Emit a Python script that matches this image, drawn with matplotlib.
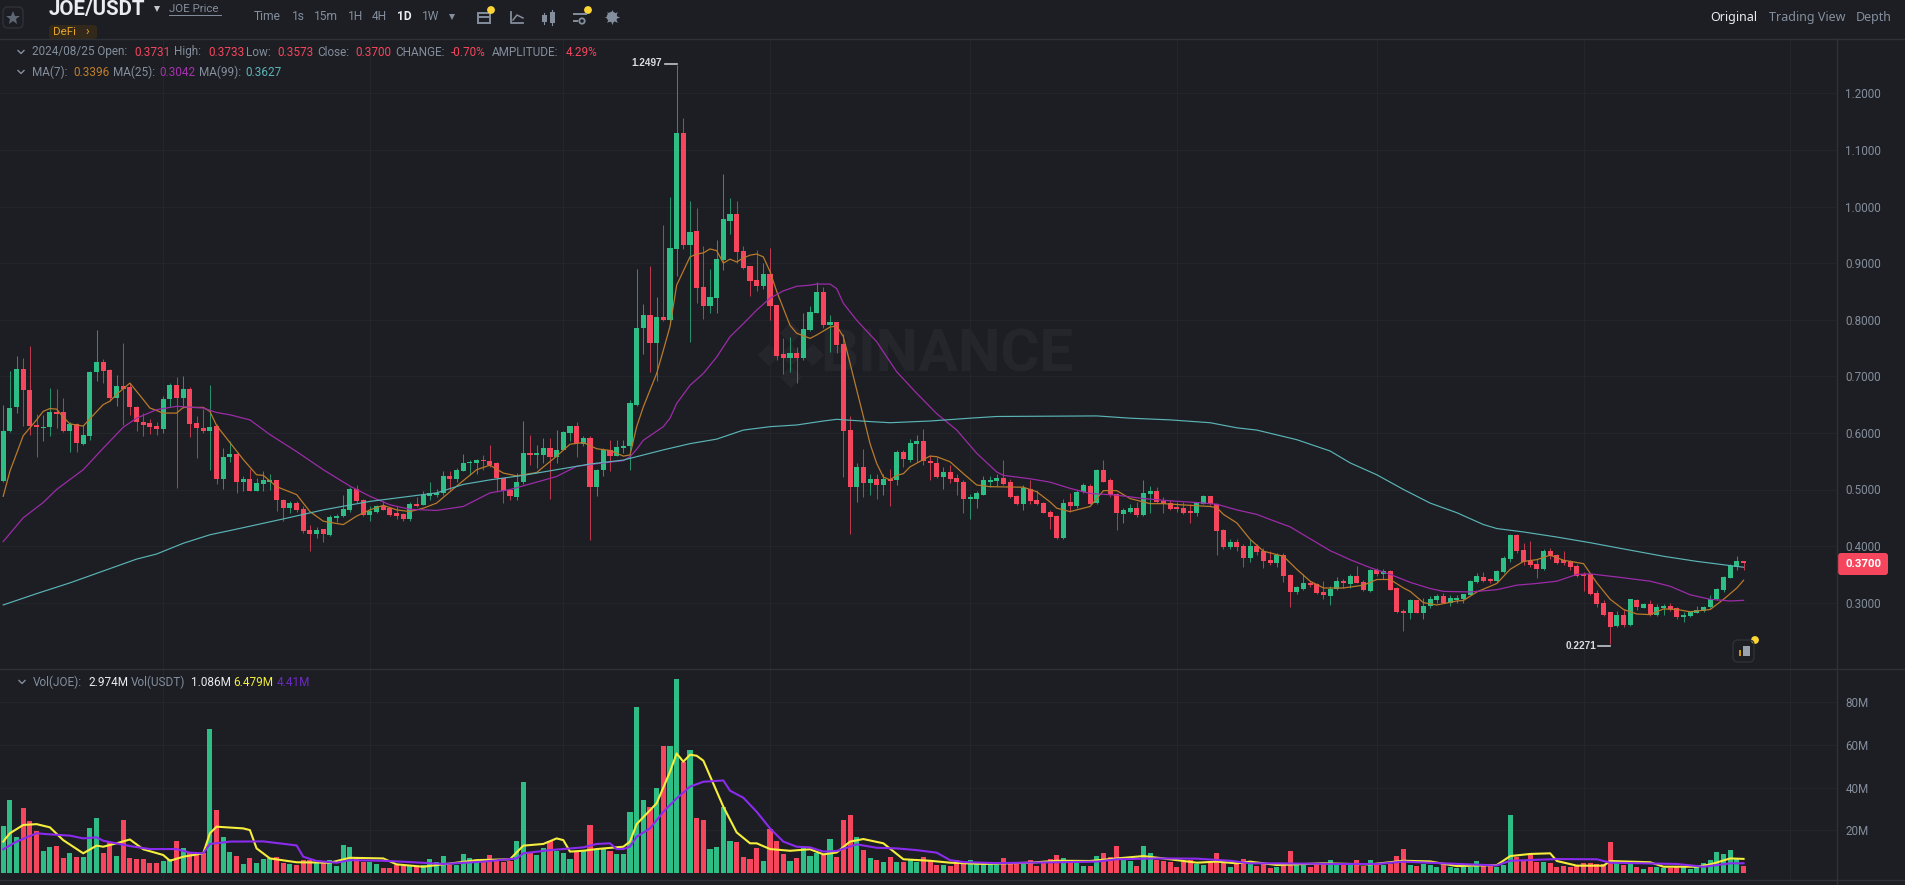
import matplotlib
matplotlib.use("Agg")
import matplotlib.pyplot as plt
from matplotlib.patches import FancyBboxPatch, Rectangle, Circle, RegularPolygon

# ---------- data ----------
direction = ("GGGRRRGGRR" "GRGGGRRGRR" "RRRRGGRGRR" "RGRGGRGRGG" "GRRGRRRGRG" "GGGRRGGRRR"
             "RGRGGGGRGG" "GGRRRRRGGR" "GGRGGGRGRG" "GRGGGGGRGR" "GGRGRRGGGG" "RRRRGRRRGR"
             "GGGRGRRRGR" "GRGRGRGGRR" "RGRRRGGGGG" "RRRGRRRRRG" "RGGRGRRRGG" "RGGRRRRRRG"
             "GRRRGRRGRR" "RGRRGGRRRG" "GRGRRGRGRR" "RGRGGGRGGG" "GGRRGGGRRR" "RGRRRRRRRR"
             "RRGRGRGRGG" "RRGGGGGGGGGR")
body_top = [.604,.644,.713,.713,.676,.614,.611,.637,.637,.637,
 .616,.616,.596,.707,.726,.726,.712,.683,.683,.681,
 .646,.620,.617,.612,.660,.685,.685,.678,.678,.617,
 .609,.611,.613,.557,.563,.563,.518,.519,.512,.517,
 .517,.517,.482,.476,.477,.465,.429,.429,.430,.451,
 .454,.466,.500,.500,.482,.462,.470,.471,.467,.458,
 .457,.474,.475,.490,.494,.494,.524,.524,.535,.547,
 .548,.552,.552,.551,.546,.520,.499,.514,.564,.564,
 .564,.574,.574,.570,.601,.613,.613,.591,.591,.535,
 .569,.570,.575,.577,.652,.786,.809,.808,.805,.805,
 .927,1.130,1.130,.955,.956,.857,.84,.907,.978,.987,
 .987,.921,.894,.870,.881,.881,.826,.739,.742,.742,
 .783,.813,.849,.849,.796,.796,.757,.606,.539,.539,
 .518,.518,.519,.519,.566,.566,.583,.586,.586,.551,
 .547,.531,.531,.521,.514,.487,.493,.517,.517,.521,
 .521,.513,.488,.502,.501,.482,.477,.461,.454,.477,
 .478,.496,.508,.507,.535,.535,.517,.492,.464,.467,
 .467,.494,.498,.497,.48,.477,.469,.467,.462,.477,
 .488,.488,.475,.429,.408,.408,.401,.4,.4,.392,
 .375,.384,.384,.349,.327,.335,.335,.333,.319,.325,
 .339,.339,.347,.347,.336,.357,.357,.356,.356,.326,
 .285,.304,.304,.295,.307,.312,.312,.309,.309,.315,
 .339,.347,.346,.342,.356,.379,.419,.419,.393,.373,
 .368,.392,.392,.385,.375,.373,.365,.35,.351,.317,
 .3,.283,.279,.279,.306,.305,.297,.297,.293,.295,
 .295,.29,.278,.284,.287,.293,.307,.325,.346,.365,.373,.3731]
body_bot = [.515,.603,.645,.675,.613,.610,.609,.610,.634,.604,
 .604,.583,.581,.595,.707,.710,.661,.662,.677,.645,
 .619,.614,.610,.607,.607,.660,.661,.661,.616,.608,
 .604,.604,.519,.519,.557,.513,.513,.498,.498,.510,
 .514,.481,.468,.468,.464,.426,.422,.422,.421,.420,
 .450,.453,.464,.480,.455,.455,.461,.464,.455,.454,
 .448,.448,.471,.473,.489,.491,.493,.519,.519,.533,
 .546,.547,.550,.543,.520,.497,.488,.487,.513,.561,
 .561,.561,.558,.558,.570,.600,.582,.581,.504,.504,
 .534,.560,.560,.574,.576,.649,.786,.758,.758,.799,
 .800,.925,.932,.932,.856,.825,.824,.838,.906,.975,
 .919,.891,.869,.859,.859,.825,.736,.732,.732,.733,
 .733,.782,.811,.79,.79,.755,.604,.504,.504,.512,
 .512,.508,.508,.515,.517,.554,.553,.581,.55,.546,
 .522,.522,.519,.513,.484,.484,.484,.491,.514,.515,
 .51,.486,.474,.474,.48,.474,.458,.452,.414,.414,
 .47,.47,.495,.475,.477,.514,.49,.458,.457,.461,
 .455,.455,.492,.478,.474,.465,.465,.458,.458,.458,
 .475,.474,.427,.399,.399,.398,.379,.379,.39,.373,
 .37,.37,.347,.319,.319,.325,.331,.317,.313,.312,
 .324,.334,.333,.335,.322,.321,.35,.35,.323,.283,
 .281,.281,.282,.282,.295,.305,.3,.3,.305,.306,
 .314,.336,.339,.338,.339,.355,.378,.391,.372,.366,
 .359,.359,.382,.37,.37,.363,.348,.348,.316,.297,
 .279,.257,.258,.26,.26,.292,.291,.278,.278,.29,
 .288,.275,.274,.276,.282,.285,.292,.306,.323,.344,.363,.37]
highs = [.649,.710,.736,.732,.754,.634,.632,.679,.677,.662,
 .619,.617,.614,.709,.782,.730,.713,.703,.758,.688,
 .648,.636,.624,.620,.665,.689,.699,.701,.681,.630,
 .642,.685,.616,.573,.586,.564,.523,.536,.521,.533,
 .527,.517,.483,.479,.479,.471,.438,.434,.430,.455,
 .457,.491,.505,.508,.483,.470,.473,.479,.469,.471,
 .458,.478,.487,.497,.513,.501,.532,.533,.538,.563,
 .553,.554,.561,.579,.548,.521,.501,.529,.621,.597,
 .579,.591,.591,.606,.603,.613,.619,.594,.594,.536,
 .573,.587,.588,.588,.659,.889,.827,.895,.84,.967,
 1.017,1.2497,1.156,1.01,.997,.930,.889,.94,1.057,1.015,
 1.01,.93,.895,.923,.9,.927,.826,.767,.77,.752,
 .811,.824,.866,.857,.808,.796,.775,.63,.546,.571,
 .527,.528,.528,.537,.57,.57,.59,.596,.607,.561,
 .558,.539,.543,.528,.517,.492,.498,.524,.524,.527,
 .553,.518,.49,.508,.517,.499,.478,.464,.455,.484,
 .494,.5,.512,.509,.537,.553,.521,.493,.468,.474,
 .478,.517,.506,.505,.487,.481,.478,.478,.475,.478,
 .49,.489,.477,.43,.412,.413,.403,.413,.403,.397,
 .391,.388,.387,.35,.33,.35,.338,.335,.338,.329,
 .346,.341,.35,.365,.34,.36,.362,.36,.358,.327,
 .288,.306,.305,.309,.312,.316,.317,.314,.314,.316,
 .34,.353,.354,.344,.357,.382,.422,.422,.405,.409,
 .378,.394,.396,.386,.392,.376,.368,.354,.353,.323,
 .304,.284,.285,.288,.307,.306,.3,.304,.297,.298,
 .3,.292,.283,.286,.294,.295,.314,.326,.348,.369,.383,.3733]
lows = [.514,.602,.636,.612,.597,.557,.585,.594,.609,.601,
 .567,.566,.579,.587,.691,.689,.657,.648,.614,.632,
 .603,.595,.598,.597,.599,.646,.502,.644,.592,.555,
 .600,.534,.510,.501,.548,.494,.497,.497,.498,.498,
 .500,.462,.445,.458,.461,.424,.392,.414,.408,.418,
 .442,.451,.461,.477,.454,.445,.458,.463,.454,.447,
 .444,.444,.469,.472,.482,.487,.491,.500,.514,.532,
 .525,.527,.535,.540,.498,.476,.481,.482,.510,.544,
 .538,.547,.483,.547,.569,.585,.557,.576,.411,.488,
 .523,.532,.559,.564,.534,.648,.740,.708,.692,.798,
 .79,.877,.925,.76,.83,.801,.811,.812,.888,.951,
 .9,.889,.842,.851,.854,.799,.729,.704,.708,.689,
 .729,.78,.811,.785,.743,.742,.522,.421,.478,.486,
 .49,.484,.49,.471,.508,.539,.549,.549,.543,.517,
 .521,.501,.511,.49,.459,.447,.467,.49,.504,.507,
 .508,.485,.472,.464,.475,.472,.458,.431,.413,.413,
 .461,.467,.493,.474,.474,.513,.486,.429,.441,.458,
 .452,.454,.458,.477,.458,.464,.461,.457,.441,.454,
 .474,.472,.385,.395,.394,.392,.363,.372,.385,.362,
 .367,.363,.336,.293,.316,.323,.328,.316,.307,.296,
 .323,.326,.326,.334,.32,.319,.347,.342,.322,.282,
 .25,.272,.281,.272,.291,.3,.299,.295,.3,.299,
 .313,.334,.336,.334,.336,.353,.372,.388,.366,.363,
 .344,.357,.378,.369,.367,.357,.346,.32,.314,.292,
 .277,.2271,.257,.257,.258,.287,.29,.276,.276,.279,
 .286,.272,.266,.275,.281,.284,.29,.304,.319,.343,.358,.3573]
volumes = [21.9,34.1,16.9,30.2,24.4,19.6,10,12,12.5,6.9,
 9.1,7.4,7.4,21,25.7,9.2,14.2,7.8,24.7,6.9,
 6.3,6.4,4.4,4.4,5.5,6.4,14.9,11.6,9.1,8.6,
 9.4,67.4,29.4,16.7,9.9,8,4.2,6.9,4.4,6.3,
 6.7,7.2,4.4,4.1,3.6,5.8,5.9,4.7,4.4,5.9,
 3.3,13.1,12,6.7,5.2,5.2,3.9,2.3,2.2,3.8,
 3.1,3.8,3.3,3.6,6.3,4.9,7.8,3.6,3.6,8.8,
 6.7,5.6,5,8.5,6.4,5,5.6,14.7,42.7,9.1,
 8.3,11.7,15,10.2,9.4,6.6,9.9,10.6,22.4,11,
 11,10,8.8,8.8,28.3,77.9,34.1,30.7,39.6,59.5,
 59.5,90.8,52.1,57.4,25.5,24.7,11,12,31,14.9,
 14.4,7.5,6.4,11.4,5.5,20.5,14.9,8.9,5.6,7,
 11.4,7.8,9.4,8.3,15.6,7.2,24.6,27.1,16.6,10.6,
 6.9,5.9,5.2,7.4,5,5,5.9,5.2,7.2,5.6,
 3.6,3.4,3.3,6.1,4.7,5.8,3.9,4.4,4.4,4.4,
 6.7,4.1,4.7,4.1,5.9,3,4.4,6.4,8.3,7,
 4.9,4.4,3.3,3.1,7.8,9.2,7.4,12.5,6.3,5.6,
 3.3,12.5,9.4,5.9,5.5,4.9,2.8,5.2,5.9,4.1,
 3.4,4.4,9.1,5.2,2.5,4.1,6.3,4.4,3.3,4.1,
 2.2,2.5,3.6,10,4.1,4.1,2.8,4.4,3.9,5.9,
 3.6,3.6,3.6,5.9,3.1,5.9,4.4,3.6,3.9,7.8,
 11,3.6,3.3,4.1,3.6,2.8,3.9,2.8,2.3,2.5,
 2.8,5.5,3.6,3.3,2.8,3.6,27.1,7.5,5.6,8.3,
 5.2,5.2,4.4,2.8,3.3,2.8,3.1,4.4,4.4,3.9,
 3.9,14.4,4.4,3.6,4.4,2.8,1.9,2.8,2.8,2.2,
 2.2,2.5,3.3,1.6,2.5,4.7,5.9,9.7,8.8,10.5,6.3,2.974]

ma7_idx = [0,1,3,5,6,7,8,9,10,12,13,15,16,17,19,21,22,24,26,27,30,31,32,34,36,38,39,41,44,46,48,51,53,55,57,59,61,63,65,68,71,73,75,77,80,83,85,87,89,91,93,94,95,96,98,99,100,101,103,104,105,106,107,108,109,110,111,112,113,114,115,116,117,118,119,121,122,124,125,126,127,128,129,130,131,132,133,134,135,136,138,139,140,142,144,146,148,153,155,157,158,160,163,164,165,167,169,172,174,178,181,182,183,185,187,189,192,194,196,198,201,204,206,208,210,211,213,215,218,219,221,224,226,228,230,232,234,237,239,241,243,245,247,249,251,253,256,258,260,261]
ma7_val = [.488,.532,.595,.623,.638,.643,.642,.628,.616,.612,.625,.650,.656,.668,.688,.659,.644,.635,.635,.645,.645,.638,.613,.583,.553,.526,.525,.505,.491,.461,.444,.438,.453,.464,.472,.464,.461,.467,.476,.506,.535,.543,.529,.524,.530,.559,.580,.583,.572,.569,.559,.561,.611,.646,.705,.746,.788,.861,.911,.916,.918,.925,.922,.9,.907,.902,.909,.914,.916,.911,.885,.85,.82,.79,.776,.767,.773,.787,.789,.77,.723,.676,.629,.581,.546,.522,.517,.525,.528,.54,.553,.559,.558,.549,.528,.508,.505,.504,.496,.478,.467,.461,.47,.484,.498,.498,.484,.475,.475,.472,.47,.468,.456,.441,.412,.391,.382,.359,.338,.326,.326,.331,.341,.341,.326,.32,.3,.296,.303,.304,.319,.334,.359,.373,.376,.384,.375,.369,.335,.306,.288,.28,.279,.289,.288,.284,.288,.306,.326,.3396]
ma25_idx = [0,3,6,8,12,15,18,20,23,26,30,32,34,37,40,44,48,52,55,58,61,65,69,73,76,80,83,86,90,93,94,95,96,99,100,101,103,105,107,109,111,113,115,117,119,121,122,124,125,126,128,131,134,137,140,143,146,149,150,154,157,160,163,167,171,175,179,182,185,188,190,193,195,197,199,202,205,208,211,214,216,220,224,227,230,233,236,238,243,247,250,253,256,259,261]
ma25_val = [.408,.450,.477,.500,.535,.573,.610,.626,.641,.647,.644,.636,.632,.623,.597,.567,.535,.506,.488,.473,.465,.463,.470,.494,.500,.513,.523,.541,.547,.551,.558,.571,.587,.611,.626,.652,.684,.705,.734,.77,.793,.817,.838,.851,.859,.861,.863,.863,.855,.829,.799,.761,.708,.67,.634,.605,.564,.531,.525,.519,.513,.502,.493,.49,.484,.48,.477,.474,.464,.456,.447,.434,.42,.406,.392,.376,.362,.35,.336,.325,.32,.319,.323,.331,.334,.338,.35,.351,.344,.338,.329,.314,.306,.303,.3042]
ma99_idx = [0,5,10,15,20,23,27,31,35,42,48,55,61,65,69,73,78,83,88,93,99,103,107,111,115,119,123,125,130,133,139,145,149,164,169,175,181,185,188,194,199,202,206,210,214,218,222,224,228,233,238,243,249,254,258,261]
ma99_val = [.296,.316,.335,.356,.377,.386,.405,.420,.430,.448,.464,.479,.488,.494,.509,.517,.525,.535,.545,.552,.570,.581,.589,.605,.611,.614,.621,.624,.62,.618,.621,.626,.629,.63,.626,.623,.618,.609,.605,.588,.568,.547,.526,.5,.476,.459,.438,.431,.425,.416,.406,.395,.382,.373,.367,.3627]

vol_fast_idx = [0,1,3,5,7,9,12,14,15,17,19,21,24,25,27,30,31,32,36,37,38,40,44,49,52,57,59,63,68,71,76,78,81,83,84,85,87,89,93,94,95,98,100,101,102,103,104,105,108,110,112,113,115,118,121,123,125,127,129,132,135,139,142,147,154,158,163,167,171,174,179,182,185,187,191,198,205,210,214,218,224,226,229,232,233,236,240,241,247,249,254,256,259,261]
vol_fast_val = [14.6,18.5,22.4,22.8,21.3,15.3,9.1,12.7,12.2,13.8,15.6,11,8.3,5.6,7.5,9.1,18.5,21.6,20.8,20,11.4,6.7,4.9,4.7,7,6.7,3.9,2.8,4.7,5.9,6.3,12.7,13.5,16.1,15.3,9.9,10.3,11.1,12.2,14.6,22.8,32.6,47.4,56,52.1,55.4,54.9,52.6,31,18.9,13.8,13.8,11.1,10.3,11,8.6,9.5,14.6,15.8,13.8,6.3,5.6,4.7,4.1,4.7,5.6,5.5,6.7,7.8,6.7,4.7,5.2,4.4,5.2,3.6,4.4,3.9,5.6,5.3,3.1,3.6,7.8,8.8,9.1,5.5,3.3,3.3,5.5,4.9,2.8,2.8,3.9,6.7,6.479]
vol_slow_idx = [0,2,5,7,10,12,14,15,19,22,26,28,30,31,34,39,44,45,47,50,52,57,61,66,72,77,78,82,87,89,91,92,93,94,95,97,99,101,103,105,108,109,111,113,115,117,119,121,123,125,128,131,134,137,140,142,144,149,158,164,167,173,179,184,187,191,200,206,210,216,224,226,233,239,241,251,255,259,261]
vol_slow_val = [11,14.6,18.5,18,17.4,16.1,16.6,15,12.5,11.1,11.1,9.4,9.1,13.5,14.6,14.7,12.8,7.5,5.5,4.7,5.9,5.6,5,4.1,5.2,6.7,9.1,10.6,11.9,13.5,13.8,11.1,11.1,12.2,16.9,20.8,28.6,34.9,40.4,42.7,43.3,38.5,35.2,28.6,20.8,14.6,12.2,11.9,9.9,10.2,13.3,11.7,11.4,10.6,9.4,5.9,5,4.5,4.9,5.2,6.3,6.7,6.6,5.6,4.4,4.4,4.1,4.1,5.2,4.4,3.4,5.6,6.4,6.3,4.7,4.1,2.8,4.4,4.41]

price_ticks = [1.2,1.1,1.0,.9,.8,.7,.6,.5,.4,.3]
vol_ticks = [80,60,40,20]
month_starts = [24,55,84,115,145,176,206,237,268]
GREEN_, RED_ = "#2EBD85", "#F6465D"

BG = "#1C1E23"; GRID = "#232529"; LINE = "#2E3138"; MUTED = "#848E9C"
W, H = 1905, 885
STEP = 6.668; X0 = 3.2

plt.rcParams["font.family"] = ["Roboto", "DejaVu Sans"]
fig = plt.figure(figsize=(W/100, H/100), dpi=100, facecolor=BG)

back = fig.add_axes([0, 0, 1, 1], zorder=0); back.set_xlim(0, W); back.set_ylim(H, 0); back.axis("off")
ui = fig.add_axes([0, 0, 1, 1], zorder=5); ui.set_xlim(0, W); ui.set_ylim(H, 0); ui.axis("off"); ui.patch.set_alpha(0)

def T(x, y, s, c=MUTED, size=11, weight="normal", ha="left", family=None, ax=ui):
    kw = {"family": family} if family else {}
    return ax.text(x, y, s, color=c, fontsize=size*0.72, fontweight=weight, ha=ha, va="center", **kw)

# panes
def pane(top, bottom):
    a = fig.add_axes([0, 1-bottom/H, 1837/W, (bottom-top)/H], zorder=2)
    a.patch.set_alpha(0)
    a.set_xlim(-X0/STEP, (1837-X0)/STEP)
    for s in a.spines.values():
        s.set_visible(False)
    a.set_xticks(month_starts); a.set_xticklabels([])
    a.tick_params(axis="x", length=0)
    a.yaxis.tick_right()
    a.tick_params(axis="y", length=0, labelcolor=MUTED, labelsize=8.4, pad=6)
    a.grid(True, color=GRID, lw=0.8); a.set_axisbelow(True)
    return a

ax = pane(39, 669)
ax.set_ylim(1.2-(669-93.3)/566, 1.2+(93.3-39)/566)
ax.set_yticks(price_ticks); ax.set_yticklabels([f"{v:.4f}" for v in price_ticks])
axv = pane(669, 880)
axv.set_ylim(-(880-872.7)/2.13, (872.7-669)/2.13)
axv.set_yticks(vol_ticks); axv.set_yticklabels([f"{v}M" for v in vol_ticks])

idx = list(range(len(direction)))
cols = [GREEN_ if d == "G" else RED_ for d in direction]
ax.vlines(idx, lows, highs, colors=cols, lw=0.75, alpha=0.72, zorder=3)
ax.bar(idx, [max(t-b, .0012) for t, b in zip(body_top, body_bot)], bottom=body_bot, width=0.76, color=cols, linewidth=0, zorder=4)
ax.plot(ma7_idx, ma7_val, color="#B97A2B", lw=0.9, zorder=5)
ax.plot(ma25_idx, ma25_val, color="#9C2BA8", lw=0.9, zorder=5)
ax.plot(ma99_idx, ma99_val, color="#5AB4B6", lw=0.85, zorder=5)
axv.bar(idx, volumes, width=0.76, color=cols, linewidth=0, zorder=3)
axv.plot(vol_fast_idx, vol_fast_val, color="#F5EE3C", lw=1.5, zorder=5)
axv.plot(vol_slow_idx, vol_slow_val, color="#8A2BEE", lw=1.5, zorder=6)

# watermark
back.text(947, 356, "BINANCE", color="#24262B", fontsize=43, fontweight="bold", ha="center", va="center", family="Roboto")
for dx, dy, r in [(0, -22, 11), (0, 22, 11), (-22, 0, 11), (22, 0, 11), (0, 0, 11)]:
    back.add_patch(RegularPolygon((791+dx, 355+dy), 4, radius=r, color="#24262B", lw=0))

# frame lines
for y in (39, 669, 880):
    ui.plot([0, W], [y, y], color=LINE, lw=1)
ui.plot([1837, 1837], [39, H], color=LINE, lw=1)

# header
ui.add_patch(FancyBboxPatch((3, 7), 20, 21, boxstyle="round,pad=0,rounding_size=5", fc="none", ec="#2E3138", lw=1))
ui.plot([13], [18], marker="*", ms=10, color="#5E6673", mew=0)
T(49, 9, "JOE/USDT", "#EAECEF", 20.5, "bold")
ui.plot([157], [9], marker="v", ms=4.5, color="#C4C8CE", mew=0)
T(169, 9, "JOE Price", MUTED, 11.5)
ui.plot([169, 221], [15, 15], color=MUTED, lw=0.7)
for x, s, c, w in [(254, "Time", MUTED, "normal"), (292, "1s", MUTED, "normal"), (314, "15m", MUTED, "normal"),
                   (348, "1H", MUTED, "normal"), (372, "4H", MUTED, "normal"), (397, "1D", "#EAECEF", "bold"),
                   (422, "1W", MUTED, "normal")]:
    T(x, 17, s, c, 12, w)
ui.plot([452], [17], marker="v", ms=3.8, color=MUTED, mew=0)
ui.add_patch(FancyBboxPatch((49, 25), 48, 14, boxstyle="round,pad=0,rounding_size=3", fc="#33291A", ec="none"))
T(53, 32, "DeFi", "#E8A62C", 11.5)
T(85, 32, "›", "#E8A62C", 12)
# tool icons
ui.add_patch(Rectangle((478, 13), 12, 10, fc="none", ec=MUTED, lw=1.4))
ui.plot([478, 490], [17, 17], color=MUTED, lw=1.4)
ui.plot([511, 511, 523], [12, 23, 23], color=MUTED, lw=1.3)
ui.plot([513, 517, 523], [20, 15, 18], color=MUTED, lw=1.1)
for x, t, b in [(544, 15, 22), (552, 12, 23)]:
    ui.add_patch(Rectangle((x-2.5, t), 5, b-t, fc=MUTED, ec="none"))
    ui.plot([x, x], [t-2, b+2], color=MUTED, lw=0.8)
ui.plot([574, 586], [14, 14], color=MUTED, lw=1.4)
ui.plot([574, 577], [21, 21], color=MUTED, lw=1.4)
ui.add_patch(Circle((582, 21), 2.7, fc="none", ec=MUTED, lw=1.3))
ui.add_patch(Circle((612, 17), 5.2, fc=MUTED, ec="none"))
ui.plot([612], [17], marker=(8, 1, 0), ms=11, color=MUTED, mew=0)
ui.add_patch(Circle((612, 17), 2, fc=BG, ec="none"))
for x, y in [(491, 10), (588, 10), (1755, 640)]:
    ui.add_patch(Circle((x, y), 3.9, fc="#FCD535", ec="none"))
T(1710, 17, "Original", "#EAECEF", 12.5, "bold", family="Noto Sans")
T(1769, 17, "Trading View", MUTED, 12.5, family="Noto Sans")
T(1856, 17, "Depth", MUTED, 12.5, family="Noto Sans")

# legend rows
def chev(x, y):
    ui.plot([x-3, x, x+3], [y-1.5, y+1.5, y-1.5], color=MUTED, lw=1)
chev(21, 52); chev(21, 72); chev(22, 682)
for x, s, c in [(32, "2024/08/25 Open:", MUTED), (134, "0.3731", RED_), (174, "High:", MUTED), (208, "0.3733", RED_),
                (246, "Low:", MUTED), (277, "0.3573", RED_), (317, "Close:", MUTED), (355, "0.3700", RED_),
                (395, "CHANGE:", MUTED), (451, "-0.70%", RED_), (492, "AMPLITUDE:", MUTED), (566, "4.29%", RED_)]:
    T(x, 52, s, c, 11.8)
for x, s, c in [(32, "MA(7):", MUTED), (73, "0.3396", "#C17E2A"), (113, "MA(25):", MUTED), (159, "0.3042", "#A632AE"),
                (199, "MA(99):", MUTED), (245, "0.3627", "#5AB4B6")]:
    T(x, 72, s, c, 11.8)
for x, s, c, w in [(33, "Vol(JOE):", MUTED, "normal"), (88, "2.974M", "#EAECEF", "normal"), (131, "Vol(USDT)", MUTED, "normal"),
                   (191, "1.086M", "#EAECEF", "normal"), (233, "6.479M", "#F5EE3C", "normal"), (277, "4.41M", "#6C2BC0", "normal")]:
    T(x, 682, s, c, 11.8, w)

# high / low callouts
T(662, 63.5, "1.2497", "#D9DBDF", 10, "bold", ha="right", family="Liberation Sans")
ui.plot([665, 677], [64, 64], color="#C4C8CE", lw=1.2)
T(1596, 646, "0.2271", "#D9DBDF", 10, "bold", ha="right", family="Liberation Sans")
ui.plot([1598, 1610], [646, 646], color="#C4C8CE", lw=1.2)

# last price badge
ui.add_patch(FancyBboxPatch((1838, 553), 50, 22, boxstyle="round,pad=0,rounding_size=3", fc=RED_, ec="none"))
T(1863, 564, "0.3700", "#FFFFFF", 11.5, "bold", ha="center")

# small news button
ui.add_patch(FancyBboxPatch((1733, 640), 21, 22, boxstyle="round,pad=0,rounding_size=5", fc="none", ec="#2E3138", lw=1))
ui.add_patch(Rectangle((1743, 646), 7, 10, fc="#9AA1AC", ec="none"))
ui.add_patch(Rectangle((1739, 650), 2, 6, fc="#C99400", ec="none"))

fig.savefig("out.png", dpi=100, facecolor=BG)
